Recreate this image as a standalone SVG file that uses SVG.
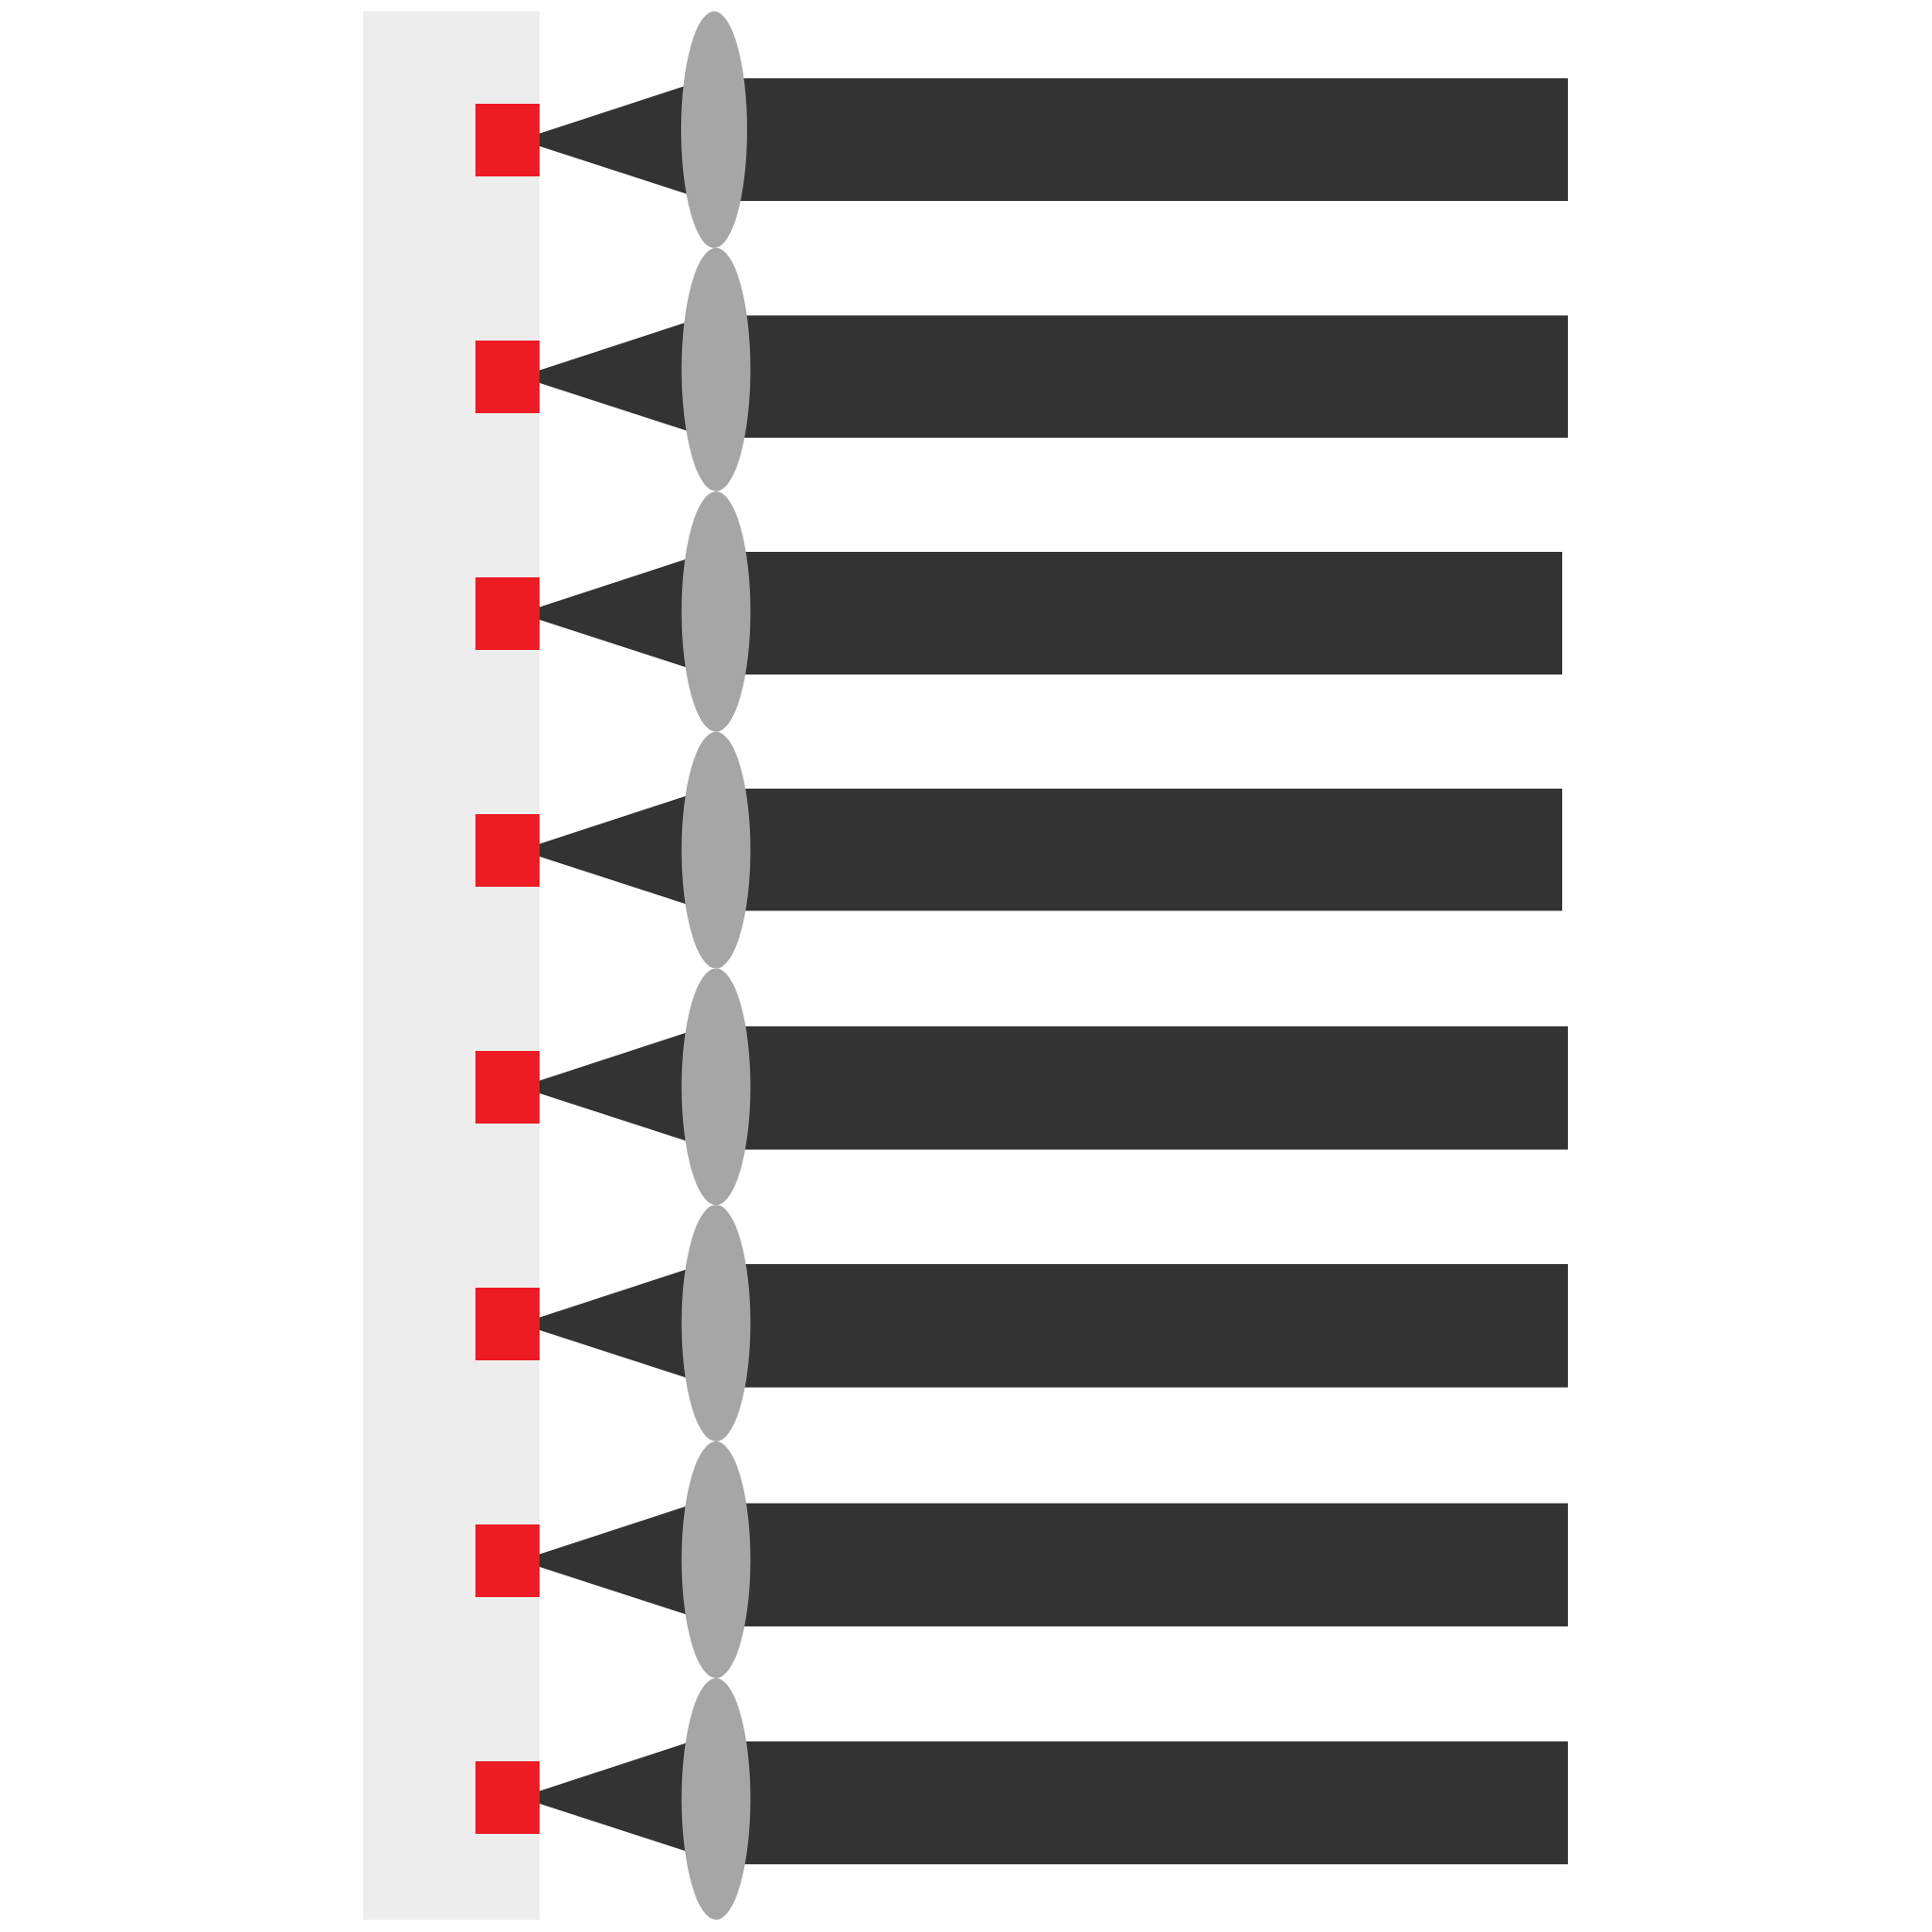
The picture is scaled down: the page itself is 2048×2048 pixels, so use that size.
<svg xmlns="http://www.w3.org/2000/svg" width="2048" height="2048" viewBox="0 0 2048 2048">
<style>
.band{fill:#ededed}
.port{fill:#ed1c24}
.beam{fill:#333333}
.bar{fill:#333333}
.lens{fill:#a6a6a6}
</style>
<rect width="2048" height="2048" fill="#ffffff"/>
<g id="band"><rect class="band" x="385" y="12" width="187" height="2023"/></g>
<g id="connectors">
<polygon class="beam" points="572,141.6 760,80 760,216 572,155"/>
<polygon class="beam" points="572,392.6 760,331 760,467 572,406"/>
<polygon class="beam" points="572,643.6 760,582 760,718 572,657"/>
<polygon class="beam" points="572,894.6 760,833 760,969 572,908"/>
<polygon class="beam" points="572,1145.6 760,1084 760,1220 572,1159"/>
<polygon class="beam" points="572,1396.6 760,1335 760,1471 572,1410"/>
<polygon class="beam" points="572,1647.6 760,1586 760,1722 572,1661"/>
<polygon class="beam" points="572,1898.6 760,1837 760,1973 572,1912"/>
</g>
<g id="row1"><rect class="port" x="504" y="110" width="68" height="77"/><rect class="bar" x="757" y="83" width="905" height="130"/><ellipse class="lens" cx="757" cy="137.5" rx="35" ry="125.5"/></g>
<g id="row2"><rect class="port" x="504" y="361" width="68" height="77"/><rect class="bar" x="759" y="334.4" width="903" height="129.6"/><ellipse class="lens" cx="759" cy="391.7" rx="36.5" ry="129"/></g>
<g id="row3"><rect class="port" x="504" y="612" width="68" height="77"/><rect class="bar" x="759" y="585" width="897" height="130"/><ellipse class="lens" cx="759" cy="648.4" rx="36.5" ry="127.4"/></g>
<g id="row4"><rect class="port" x="504" y="863" width="68" height="77"/><rect class="bar" x="759" y="836" width="897" height="129.5"/><ellipse class="lens" cx="759" cy="901.2" rx="36.5" ry="125.4"/></g>
<g id="row5"><rect class="port" x="504" y="1114" width="68" height="77"/><rect class="bar" x="759" y="1088" width="903" height="130.6"/><ellipse class="lens" cx="759" cy="1152" rx="36.5" ry="125.4"/></g>
<g id="row6"><rect class="port" x="504" y="1365" width="68" height="77"/><rect class="bar" x="759" y="1340" width="903" height="130.7"/><ellipse class="lens" cx="759" cy="1402.6" rx="36.5" ry="125.4"/></g>
<g id="row7"><rect class="port" x="504" y="1616" width="68" height="77"/><rect class="bar" x="759" y="1593.5" width="903" height="130.6"/><ellipse class="lens" cx="759" cy="1653.5" rx="36.5" ry="125.4"/></g>
<g id="row8"><rect class="port" x="504" y="1867" width="68" height="77"/><rect class="bar" x="759" y="1846" width="903" height="130.2"/><ellipse class="lens" cx="759" cy="1907" rx="36.5" ry="128"/></g>
</svg>
